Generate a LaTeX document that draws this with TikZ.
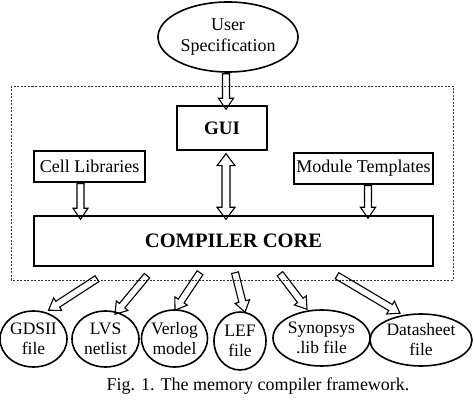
\documentclass[tikz,border=0pt]{standalone}
\usepackage{fontspec}
\setmainfont{Liberation Serif}
\usepackage{tikz}
\usetikzlibrary{positioning, calc, shapes}
\tikzset{box/.style={draw, line width=1.4pt, inner sep=0pt, font=\fontsize{18}{20}\selectfont}}
\tikzset{oval/.style={draw, ellipse, line width=1.6pt, inner sep=0pt, align=center, font=\fontsize{17.5}{20}\selectfont}}
\tikzset{hollow/.style={line width=1.1pt, to path={let \p1=($(\tikztotarget)-(\tikztostart)$), \n1={atan2(\y1,\x1)}, \n2={veclen(\x1,\y1)} in
  ($(\tikztostart)+(\n1+90:3.5pt)$) -- ($(\tikztostart)+(\n1:\n2-11pt)+(\n1+90:3.5pt)$) -- ($(\tikztostart)+(\n1:\n2-11pt)+(\n1+90:7.5pt)$) -- (\tikztotarget)
  -- ($(\tikztostart)+(\n1:\n2-11pt)+(\n1-90:7.5pt)$) -- ($(\tikztostart)+(\n1:\n2-11pt)+(\n1-90:3.5pt)$) -- ($(\tikztostart)+(\n1-90:3.5pt)$) -- cycle}}}
\tikzset{hollowboth/.style={line width=1.1pt, to path={let \p1=($(\tikztotarget)-(\tikztostart)$), \n1={atan2(\y1,\x1)}, \n2={veclen(\x1,\y1)} in
  (\tikztostart) -- ($(\tikztostart)+(\n1:12pt)+(\n1+90:9pt)$) -- ($(\tikztostart)+(\n1:12pt)+(\n1+90:4pt)$) -- ($(\tikztostart)+(\n1:\n2-12pt)+(\n1+90:4pt)$)
  -- ($(\tikztostart)+(\n1:\n2-12pt)+(\n1+90:9pt)$) -- (\tikztotarget) -- ($(\tikztostart)+(\n1:\n2-12pt)+(\n1-90:9pt)$) -- ($(\tikztostart)+(\n1:\n2-12pt)+(\n1-90:4pt)$)
  -- ($(\tikztostart)+(\n1:12pt)+(\n1-90:4pt)$) -- ($(\tikztostart)+(\n1:12pt)+(\n1-90:9pt)$) -- cycle}}}

\begin{document}
\begin{tikzpicture}[x=1pt, y=1pt]

      \useasboundingbox (0,0) rectangle (474,-403);

      % FRAME
      \draw[line width=0.5pt, dash pattern=on 2pt off 1.5pt, black!80] (11,-86) rectangle (453,-280);

      % BLOCKS

      \node[oval, minimum width=140, minimum height=70, font=\fontsize{18}{21}\selectfont] (spec) at (228,-37) {User\\Specification};
      \node[box, minimum width=90, minimum height=44, font=\fontsize{19}{20}\selectfont\bfseries] (gui) at (222,-128) {GUI};
      \node[box, minimum width=111, minimum height=31] (cell) at (89.5,-166.5) {Cell Libraries};
      \node[box, minimum width=139, minimum height=31] (module) at (363.5,-168.5) {Module Templates};
      \node[box, minimum width=399, minimum height=50, font=\fontsize{20.5}{20}\selectfont\bfseries] (core) at (233.5,-241) {COMPILER CORE};

      % OUTPUTS

      \node[oval, minimum width=67, minimum height=56] (gds) at (33.5,-339) {GDSII\\file};
      \node[oval, minimum width=67, minimum height=56] (lvs) at (105.5,-339) {LVS\\netlist};
      \node[oval, minimum width=65, minimum height=57] (verilog) at (174.5,-338.5) {Verlog\\model};
      \node[oval, minimum width=52, minimum height=58] (lef) at (240,-341) {LEF\\file};
      \node[oval, minimum width=97, minimum height=56] (lib) at (321.5,-338) {Synopsys\\.lib file};
      \node[oval, minimum width=102, minimum height=52] (sheet) at (421,-340) {Datasheet\\file};

      % CAPTION
      \node[font=\fontsize{18}{20}\selectfont] (cap) at (258,-386) {Fig. 1. The memory compiler framework.};

      % ARROW ENDS
      \coordinate (s0) at ($(spec.south)+(-2,-1)$);
      \coordinate (e0) at ($(gui.north)+(4,-4)$);
      \coordinate (s1) at ($(gui.south)+(4,-3)$);
      \coordinate (e1) at ($(core.north)+(-7.5,-4)$);
      \coordinate (s2) at ($(cell.south)+(-9,-1)$);
      \coordinate (e2) at ($(core.north)+(-153,-4)$);
      \coordinate (s3) at ($(module.south)+(4.5,-1)$);
      \coordinate (e3) at ($(core.north)+(134.5,-3)$);

      \coordinate (c1) at ($(core.south)+(-136.5,-12)$);
      \coordinate (c2) at ($(core.south)+(-86.5,-9)$);
      \coordinate (c3) at ($(core.south)+(-33.5,-6)$);
      \coordinate (c4) at ($(core.south)+(1.5,-6)$);
      \coordinate (c5) at ($(core.south)+(46.5,-7)$);
      \coordinate (c6) at ($(core.south)+(103.5,-9)$);

      \coordinate (t1) at ($(gds.north)+(15,0)$);
      \coordinate (t2) at ($(lvs.north)+(9.5,-4)$);
      \coordinate (t3) at ($(verilog.north)+(0.5,-1)$);
      \coordinate (t4) at ($(lef.north)+(5,-1)$);
      \coordinate (t5) at ($(lib.north)+(-14.5,0)$);
      \coordinate (t6) at ($(sheet.north)+(-21,0)$);

      % ARROWS
      \draw[hollow] (s0) to (e0);
      \draw[hollowboth] (s1) to (e1);
      \draw[hollow] (s2) to (e2);
      \draw[hollow] (s3) to (e3);

      \draw[hollow] (c1) to (t1);
      \draw[hollow] (c2) to (t2);
      \draw[hollow] (c3) to (t3);
      \draw[hollow] (c4) to (t4);
      \draw[hollow] (c5) to (t5);
      \draw[hollow] (c6) to (t6);

\end{tikzpicture}
\end{document}
